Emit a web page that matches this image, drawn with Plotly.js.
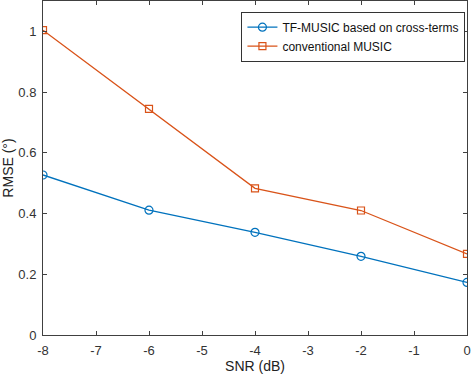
<!DOCTYPE html>
<html><head><meta charset="utf-8">
<script src="https://cdn.plot.ly/plotly-3.0.1.min.js"></script>
<style>body{margin:0;padding:0;background:#fff}#c{width:474px;height:379px}</style>
</head><body><div id="c"></div>
<script>
const snr = [-8, -6, -4, -2, 0];
const tfMusic = [0.527, 0.411, 0.338, 0.259, 0.173];
const convMusic = [1.004, 0.745, 0.483, 0.410, 0.267];
const xTicks = [-8, -7, -6, -5, -4, -3, -2, -1, 0];
const yTicks = [0, 0.2, 0.4, 0.6, 0.8, 1];
const names = ['TF-MUSIC based on cross-terms', 'conventional MUSIC'];

const FONT = 'Liberation Sans, Arial, sans-serif';
const traces = [
  {x: snr, y: tfMusic, name: names[0], mode: 'lines+markers', type: 'scatter',
   line: {color: '#0072BD', width: 1.3},
   marker: {symbol: 'circle-open', size: 8, color: '#0072BD', line: {width: 1.2}}},
  {x: snr, y: convMusic, name: names[1], mode: 'lines+markers', type: 'scatter',
   line: {color: '#D95319', width: 1.3},
   marker: {symbol: 'square-open', size: 7, color: '#D95319', line: {width: 1.2}}}
];
const axisCommon = {showline: true, mirror: 'ticks', linecolor: '#404040', linewidth: 1,
  ticks: 'inside', ticklen: 4, tickcolor: '#404040', showgrid: false, zeroline: false,
  tickfont: {family: FONT, size: 13, color: '#333'}};
const layout = {
  width: 474, height: 379,
  margin: {l: 43, r: 7, t: 1, b: 44},
  paper_bgcolor: '#fff', plot_bgcolor: '#fff',
  showlegend: true,
  legend: {x: 0.468, y: 0.968, xanchor: 'left', yanchor: 'top', bordercolor: '#333', borderwidth: 1,
    bgcolor: '#fff', font: {family: FONT, size: 12, color: '#111'},
    tracegroupgap: 0, itemwidth: 30},
  xaxis: Object.assign({}, axisCommon, {range: [-8, 0], tickvals: xTicks, ticktext: xTicks.map(String),
    ticklabelstandoff: 3,
    title: {text: 'SNR (dB)', standoff: 3, font: {family: FONT, size: 14, color: '#222'}}}),
  yaxis: Object.assign({}, axisCommon, {range: [0, 1.1], tickvals: yTicks, ticktext: yTicks.map(String),
    ticklabelstandoff: 3,
    title: {text: 'RMSE (°)', standoff: 4, font: {family: FONT, size: 14, color: '#222'}}})
};
Plotly.newPlot('c', traces, layout, {displayModeBar: false, staticPlot: true});
</script></body></html>
